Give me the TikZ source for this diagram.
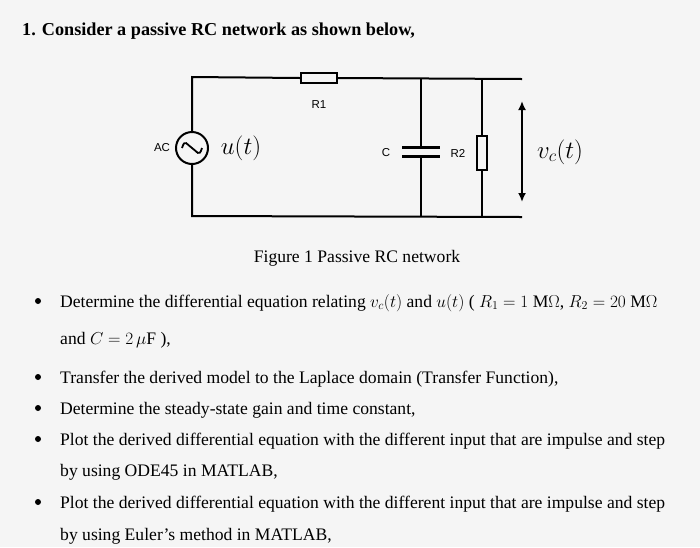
\documentclass[tikz,border=0pt]{standalone}
\usepackage{fontspec}
\usetikzlibrary{arrows.meta}
\setmainfont{Liberation Serif}
\setsansfont{Liberation Sans}
\begin{document}
\begin{tikzpicture}[x=1pt,y=-1pt,
  wire/.style={line width=2pt},
  txt/.style={anchor=base west,inner sep=0pt,font=\fontsize{17.6}{20}\selectfont},
  lbl/.style={inner sep=0pt,font=\sffamily\fontsize{11.5}{13}\selectfont},
  bul/.style={circle,fill=black,inner sep=0pt,minimum size=6pt}]
\fill[gray!8] (0,0) rectangle (700,547);
\useasboundingbox (0,0) rectangle (700,547);
% circuit
\coordinate (tl) at (192,77); \coordinate (bl) at (192,216);
\coordinate (tr) at (522,79); \coordinate (br) at (522,217);
\coordinate (ct) at (421,79); \coordinate (cb) at (421,217);
\coordinate (rt) at (482,79); \coordinate (rb) at (482,217);
\node[draw,line width=2pt,minimum width=36pt,minimum height=10pt,inner sep=0pt,fill=gray!8] (R1) at (319,78) {};
\node[draw,line width=2pt,circle,minimum size=32pt,inner sep=0pt,fill=gray!8] (src) at (192,148) {};
\draw[wire] (src.north) -- (tl) -- (R1.west);
\draw[wire] (R1.east) -- (tr);
\draw[wire] (src.south) -- (bl) -- (br);
\draw[line width=1.8pt] ([xshift=-10]src.center) .. controls +(3,-10) and +(-5,-3) .. (src.center) .. controls +(5,3) and +(-3,10) .. ([xshift=10]src.center);
\node[draw,line width=2pt,minimum width=10pt,minimum height=34pt,inner sep=0pt,fill=gray!8] (R2) at (482,153) {};
\draw[wire] (rt) -- (R2.north); \draw[wire] (R2.south) -- (rb);
\coordinate (cp1) at (421,147); \coordinate (cp2) at (421,156);
\draw[wire] (ct) -- (cp1); \draw[wire] (cp2) -- (cb);
\draw[line width=3pt] ([xshift=-19]cp1) -- ([xshift=19]cp1);
\draw[line width=3pt] ([xshift=-19]cp2) -- ([xshift=19]cp2);
\coordinate (a1) at (522,101); \coordinate (a2) at (522,202);
\draw[line width=1.8pt,{Latex[length=9pt,width=8pt]}-{Latex[length=9pt,width=8pt]}] (a1) -- (a2);
\node[lbl] (lR1) at (319,105) {R1};
\node[lbl] (lR2) at (458,153) {R2};
\node[lbl] (lC) at (386,153) {C};
\node[lbl] (lAC) at (162,148) {AC};
\node[inner sep=0pt,font=\fontsize{23}{26}\selectfont] (lu) at (241,148) {$u\big(t\big)$};
\node[inner sep=0pt,font=\fontsize{23}{26}\selectfont] (lv) at (560,152) {$v_{c}\big(t\big)$};
% text
\node[txt,font=\bfseries\fontsize{18.2}{20}\selectfont] (title) at (22,35) {1. Consider a passive RC network as shown below,};
\node[txt,anchor=base] (cap) at (357,262) {Figure 1 Passive RC network};
\node[bul] (b1) at (38,301) {};
\node[bul] (b2) at (38,377) {};
\node[bul] (b3) at (38,408) {};
\node[bul] (b4) at (38,439) {};
\node[bul] (b5) at (38,502) {};
\node[txt] (t1) at (60,307) {Determine the differential equation relating $v_c(t)$ and $u(t)$ ( $R_1=1$ M$\Omega$, $R_2=20$ M$\Omega$};
\node[txt] (t1b) at (60,344) {and $C=2\,\mu$F ),};
\node[txt] (t2) at (60,383) {Transfer the derived model to the Laplace domain (Transfer Function),};
\node[txt] (t3) at (60,414) {Determine the steady-state gain and time constant,};
\node[txt] (t4) at (60,445) {Plot the derived differential equation with the different input that are impulse and step};
\node[txt] (t4b) at (60,476) {by using ODE45 in MATLAB,};
\node[txt] (t5) at (60,508) {Plot the derived differential equation with the different input that are impulse and step};
\node[txt] (t5b) at (60,540) {by using Euler's method in MATLAB,};
\end{tikzpicture}
\end{document}
